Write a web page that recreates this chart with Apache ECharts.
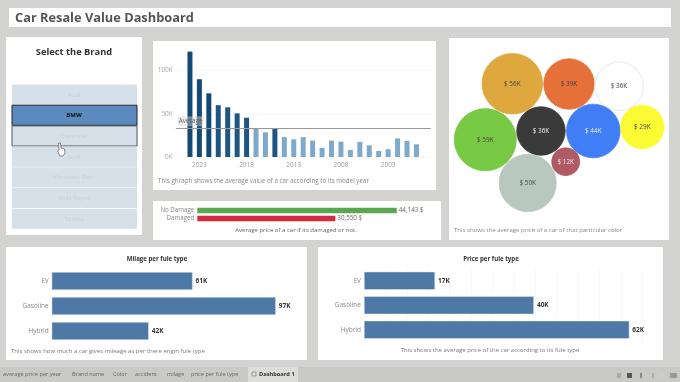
<!DOCTYPE html>
<html>
<head>
<meta charset="utf-8">
<style>
html, body { margin: 0; padding: 0; background: #d3d3d1; }
#main { width: 680px; height: 382px; filter: blur(0.45px); }
</style>
<script src="https://cdn.jsdelivr.net/npm/echarts@6/dist/echarts.min.js"></script>
</head>
<body>
<div id="main"></div>
<script>
var brands = ['Audi', 'BMW', 'Chevrolet', 'Ford', 'Mercedes-Benz', 'Rolls-Royce', 'Toyota'];
var tabs = ['average price per year', 'Brand name', 'Color', 'accident', 'milage', 'price per fule type'];

// average price per model year, newest first
var years = ['2024', '2023', '2022', '2021', '2020', '2019', '2018', '2017', '2016', '2015', '2014', '2013', '2012',
    '2011', '2010', '2009', '2008', '2007', '2006', '2005', '2004', '2003', '2002', '2001', '2000'];
var yearPrice = [122, 90, 73.7, 60, 57.5, 50.5, 45.5, 32.9, 28.5, 33.5, 23, 20.5, 23,
    19, 10.5, 19, 17.8, 8, 17.5, 13.5, 7, 9, 21.5, 18.5, 14.7];
var yearAverage = 33.2;

// bubbles, x/y is only the packing inside the panel
var colorNames = ['gold', 'orange', 'white', 'green', 'black', 'blue', 'yellow', 'red', 'grey'];
var colorPrice = [56, 39, 36, 59, 36, 44, 29, 12, 50];
var bubbleX = [63.3, 120, 170, 36.3, 92, 144.3, 193.3, 116.7, 78.7];
var bubbleY = [45.7, 46, 48.3, 101.7, 93, 93, 89, 123.7, 145];

var damageNames = ['No Damage', 'Damaged'];
var damagePrice = [44143, 30550];

var fuelTypes = ['EV', 'Gasoline', 'Hybrid'];
var fuelMilage = [61, 97, 42];
var fuelPrice = [16.6, 39.7, 62];

var FONT = '"Open Sans", "Noto Sans", sans-serif';
var swatch = {
    gold: '#dfa83f', orange: '#e5703a', white: '#ffffff', green: '#78c944', black: '#3a3a3a',
    blue: '#3f7ef5', yellow: '#fbfb33', red: '#b05a63', grey: '#b9c8bf'
};
var lightText = { black: 1, blue: 1, red: 1 };

function panel(x, y, w, h) {
    return { type: 'rect', shape: { x: x, y: y, width: w, height: h }, style: { fill: '#fff' }, z: 0 };
}
function label(text, x, y, size, color, align, weight) {
    return {
        type: 'text', x: x, y: y, z: 5,
        style: {
            text: text, fill: color, font: (weight || 'normal') + ' ' + size + 'px ' + FONT,
            align: align || 'left', verticalAlign: 'middle'
        }
    };
}

var graphics = [
    panel(9, 8, 662, 19),
    panel(6, 37, 136, 198),
    panel(153, 41, 283, 149),
    panel(449, 38, 220, 202),
    panel(153, 201, 288, 39),
    panel(6, 247, 301, 113),
    panel(318, 247, 345, 113),
    label('Car Resale Value Dashboard', 15, 18, 12.8, '#555', 'left', 'bold'),
    label('Select the Brand', 74, 52, 9.3, '#333', 'center', 'bold'),
    label('This ghraph shows the average value of a car according to its model year', 158, 181, 6.25, '#888'),
    label('This shows the average price of a car of that particular color', 454, 230, 6.05, '#888'),
    label('Average price of a car if its damaged or not.', 296, 230.5, 6, '#666', 'center'),
    label('Milage per fule type', 157, 259, 6.1, '#333', 'center', 'bold'),
    label('This shows how much a car gives mileage as per there engin fule type', 11, 351.5, 6, '#777'),
    label('Price per fule type', 491, 259, 6.1, '#333', 'center', 'bold'),
    label('This shows the average price of the car according to its fule type', 490, 350.5, 6, '#777', 'center')
];

// brand filter list
var rowTop = 84.5, rowH = 20.7;
brands.forEach(function (name, i) {
    var picked = name === 'BMW', hover = name === 'Chevrolet';
    graphics.push({
        type: 'rect', z: 1,
        shape: { x: 12, y: rowTop + i * rowH, width: 125, height: rowH - 0.6 },
        style: {
            fill: picked ? '#5b8abf' : '#d5e0e8',
            stroke: picked ? '#222' : (hover ? '#555' : null),
            lineWidth: picked || hover ? 1 : 0
        }
    });
    graphics.push(label(name, 74, rowTop + i * rowH + rowH / 2, 6, picked ? '#111' : '#c5ced6', 'center', picked ? 'bold' : 'normal'));
});
// pointer hand
graphics.push({
    type: 'polygon', z: 6,
    shape: { points: [[58.5, 143], [60.5, 143], [61, 148], [64.5, 149], [65, 153], [63, 156], [60, 156], [57.5, 151], [59, 150]] },
    style: { fill: '#fff', stroke: '#555', lineWidth: 0.7 }
});

// bottom tab strip
graphics.push({ type: 'rect', shape: { x: 0, y: 367, width: 680, height: 15 }, style: { fill: '#c9cac7' }, z: 0 });
graphics.push({ type: 'rect', shape: { x: 248, y: 367, width: 50, height: 15 }, style: { fill: '#dcdcda' }, z: 1 });
var tabX = [3, 72, 113, 135, 167, 191];
tabs.forEach(function (t, i) {
    graphics.push(label(t, tabX[i], 374.5, 5.6, '#666'));
});
graphics.push(label('Dashboard 1', 259, 374.5, 5.7, '#333', 'left', 'bold'));
graphics.push({ type: 'rect', shape: { x: 252, y: 372, width: 4, height: 4 }, style: { fill: 'none', stroke: '#777', lineWidth: 0.6 }, z: 5 });
// viewer controls at the right
[[617, 4, '#aaa'], [627, 5, '#555'], [640, 2, '#888'], [652, 2, '#aaa'], [658, 8, '#ccc'], [670, 7, '#999']].forEach(function (b) {
    graphics.push({ type: 'rect', shape: { x: b[0], y: 373, width: b[1], height: 5 }, style: { fill: b[2] }, z: 5 });
});

var yearCats = [''].concat(years, ['']);
var yearVals = [null].concat(yearPrice, [null]);
var yearLabels = ['2023', '2018', '2013', '2008', '2003'];

function fuelBars(gridIdx, values) {
    return {
        type: 'bar', xAxisIndex: gridIdx, yAxisIndex: gridIdx, data: values, barWidth: 18,
        itemStyle: { color: '#4e79a7', borderColor: '#dfe8f0', borderWidth: 0.5 },
        label: {
            show: true, position: 'right', distance: 3, color: '#333', fontFamily: FONT, fontSize: 6.5, fontWeight: 'bold',
            formatter: function (p) { return Math.round(p.value) + 'K'; }
        }
    };
}
function catAxis(gridIdx, cats, size) {
    return {
        type: 'category', gridIndex: gridIdx, data: cats, inverse: true,
        axisLine: { show: false }, axisTick: { show: false },
        axisLabel: { color: '#888', fontFamily: FONT, fontSize: size, margin: 3 }
    };
}
function hiddenVal(gridIdx, max) {
    return {
        type: 'value', gridIndex: gridIdx, min: 0, max: max, show: false, splitLine: { show: false }
    };
}

var option = {
    animation: false,
    backgroundColor: '#d3d3d1',
    textStyle: { fontFamily: FONT },
    graphic: { elements: graphics },
    grid: [
        { left: 175.8, top: 49, width: 254.8, height: 108 },
        { left: 449, top: 38, width: 220, height: 202 },
        { left: 197.3, top: 206.5, width: 225.9, height: 16 },
        { left: 51.7, top: 268.5, width: 231, height: 75 },
        { left: 364, top: 268.5, width: 278.2, height: 73.5 }
    ],
    xAxis: [
        {
            type: 'category', gridIndex: 0, data: yearCats,
            axisLine: { show: false }, axisTick: { show: false },
            axisLabel: {
                color: '#999', fontFamily: FONT, fontSize: 6.5, margin: 5,
                interval: function (i, v) { return yearLabels.indexOf(v) >= 0; }
            }
        },
        { type: 'value', gridIndex: 1, min: 0, max: 220, show: false, splitLine: { show: false } },
        hiddenVal(2, 50000),
        hiddenVal(3, 100),
        {
            type: 'value', gridIndex: 4, min: 0, max: 65, interval: 5,
            axisLine: { show: false }, axisTick: { show: false }, axisLabel: { show: false },
            splitLine: { lineStyle: { color: '#f1f1f1', width: 0.6 } }
        }
    ],
    yAxis: [
        {
            type: 'value', gridIndex: 0, min: 0, max: 125, interval: 50,
            axisLine: { show: false }, axisTick: { show: false },
            axisLabel: {
                color: '#aaa', fontFamily: FONT, fontSize: 6.5, margin: 3, showMaxLabel: false,
                formatter: function (v) { return v > 100 ? '' : v + 'K'; }
            },
            splitLine: { showMaxLine: false, lineStyle: { color: '#f3f3f3', width: 0.6 } }
        },
        { type: 'value', gridIndex: 1, min: 0, max: 202, inverse: true, show: false, splitLine: { show: false } },
        catAxis(2, damageNames, 6.2),
        catAxis(3, fuelTypes, 6.5),
        catAxis(4, fuelTypes, 6.5)
    ],
    series: [
        {
            type: 'bar', xAxisIndex: 0, yAxisIndex: 0, data: yearVals, barWidth: 5,
            itemStyle: {
                color: function (p) {
                    if (p.value < yearAverage) return '#7fa9cb';
                    return p.value > 70 ? '#134a75' : '#1e5583';
                }
            },
            markLine: {
                silent: true, symbol: 'none',
                lineStyle: { color: '#999', type: 'solid', width: 1 },
                label: {
                    show: true, position: 'insideStartTop', distance: 2, formatter: 'Average',
                    color: '#666', fontFamily: FONT, fontSize: 6.3,
                    backgroundColor: 'rgba(215,215,215,0.45)', padding: [2, 1]
                },
                data: [{ yAxis: yearAverage }]
            }
        },
        {
            type: 'scatter', xAxisIndex: 1, yAxisIndex: 1, clip: false,
            data: colorPrice.map(function (v, i) {
                var name = colorNames[i];
                return {
                    value: [bubbleX[i], bubbleY[i], v],
                    itemStyle: {
                        opacity: 1, color: swatch[name],
                        borderColor: name === 'white' ? '#dddddd' : swatch[name], borderWidth: 0.7
                    },
                    label: { color: lightText[name] ? '#eee' : '#444' }
                };
            }),
            symbolSize: function (d) { return 8.1 * Math.sqrt(d[2]); },
            label: {
                show: true, position: 'inside', fontFamily: FONT, fontSize: 6.4,
                formatter: function (p) { return '$ ' + p.value[2] + 'K'; }
            }
        },
        {
            type: 'bar', xAxisIndex: 2, yAxisIndex: 2, barWidth: 5.3,
            data: damagePrice.map(function (v, i) {
                return { value: v, itemStyle: { color: i === 0 ? '#59a84f' : '#d62b41' } };
            }),
            label: {
                show: true, position: 'right', distance: 2, color: '#666', fontFamily: FONT, fontSize: 6.3,
                formatter: function (p) { return p.value.toLocaleString('en-US') + ' $'; }
            }
        },
        fuelBars(3, fuelMilage),
        fuelBars(4, fuelPrice)
    ]
};

var chart = echarts.init(document.getElementById('main'), null, { renderer: 'canvas' });
chart.setOption(option);
</script>
</body>
</html>
